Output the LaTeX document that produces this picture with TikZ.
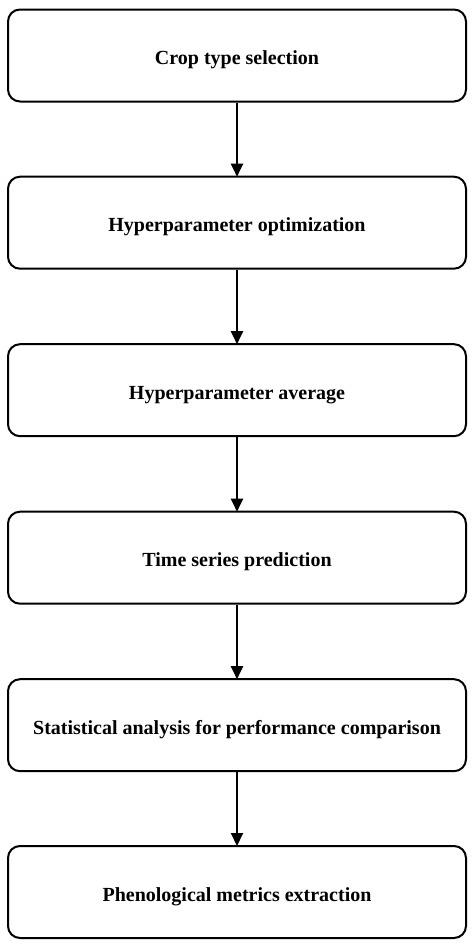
\documentclass[tikz,border=0pt]{standalone}
\usepackage{fontspec}
\setmainfont{Liberation Serif}
\usetikzlibrary{arrows.meta}
\begin{document}
\begin{tikzpicture}[x=1pt,y=-1pt,
  stepbox/.style={draw=black, line width=2pt, rounded corners=12pt, minimum width=458pt, minimum height=92pt, inner sep=0pt, text height=18.4pt, text depth=0pt, font=\fontsize{20}{24}\selectfont\bfseries, fill=white},
  flow/.style={line width=2pt, -{Triangle[length=13pt,width=12pt]}, shorten >=-1pt}]
\useasboundingbox (0,0) rectangle (474,945);
\node[stepbox] (a) at (237,55.5) {Crop type selection};
\node[stepbox] (b) at (237,222.7) {Hyperparameter optimization};
\node[stepbox] (c) at (237,390.2) {Hyperparameter average};
\node[stepbox] (d) at (237,557.7) {Time series prediction};
\node[stepbox] (e) at (237,725.2) {Statistical analysis for performance comparison};
\node[stepbox] (f) at (237,892) {Phenological metrics extraction};
\draw[flow] (a) -- (b);
\draw[flow] (b) -- (c);
\draw[flow] (c) -- (d);
\draw[flow] (d) -- (e);
\draw[flow] (e) -- (f);
\end{tikzpicture}
\end{document}
